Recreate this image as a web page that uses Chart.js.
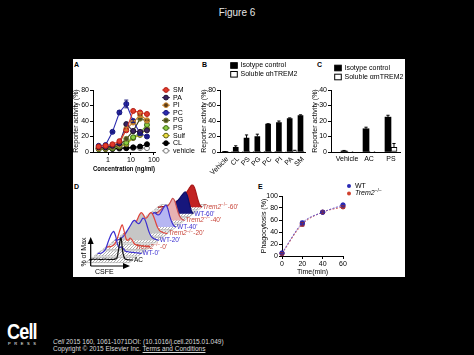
<!DOCTYPE html>
<html>
<head>
<meta charset="utf-8">
<title>Figure 6</title>
<script src="https://cdn.jsdelivr.net/npm/chart.js@4.4.1/dist/chart.umd.min.js"></script>
<style>
  html, body { margin:0; padding:0; background:#000; width:474px; height:355px; overflow:hidden; }
  body { position:relative; font-family:"Liberation Sans", Arial, Helvetica, sans-serif; }
  #figtitle { position:absolute; left:0; top:7px; width:474px; text-align:center; color:#e6e6e6; font-size:10px; line-height:12px; }
  #panel { position:absolute; left:73px; top:59px; width:332px; height:218px; background:#fff; }
  canvas { position:absolute; }
  .plabel { position:absolute; font-size:7px; font-weight:bold; color:#000; line-height:7px; }
  #logo { position:absolute; left:7px; top:321px; color:#fff; }
  #logo .cell { font-size:22px; font-weight:bold; letter-spacing:-1px; line-height:22px; display:block; transform:scaleX(0.82); transform-origin:left top; }
  #logo .press { font-size:4px; letter-spacing:3.6px; line-height:4px; display:block; margin-left:1px; margin-top:-1px; }
  #cite { position:absolute; left:53px; top:338px; color:#dcdcdc; font-size:6.5px; line-height:7.3px; white-space:nowrap; }
</style>
</head>
<body>
<div id="figtitle">Figure 6</div>
<div id="panel"></div>
<div class="plabel" style="left:74px;top:61px">A</div>
<div class="plabel" style="left:202px;top:61px">B</div>
<div class="plabel" style="left:317px;top:61px">C</div>
<div class="plabel" style="left:74px;top:183px">D</div>
<div class="plabel" style="left:258px;top:183px">E</div>
<canvas id="cA" width="132" height="117" style="left:73px;top:59px"></canvas>
<canvas id="cB" width="117" height="121" style="left:195px;top:59px"></canvas>
<canvas id="cC" width="93" height="121" style="left:312px;top:59px"></canvas>
<canvas id="cD" width="182" height="98" style="left:73px;top:180px"></canvas>
<canvas id="cE" width="150" height="97" style="left:255px;top:180px"></canvas>
<div id="logo"><span class="cell">Cell</span><span class="press">PRESS</span></div>
<div id="cite"><i>Cell</i> 2015 160, 1061-1071DOI: (10.1016/j.cell.2015.01.049)<br>Copyright © 2015 Elsevier Inc. <u>Terms and Conditions</u></div>
<script>
// ---------------- Panel A data ----------------
const aConc = [0.39, 0.78, 1.56, 3.125, 6.25, 12.5, 25, 50];
const aTicks = [1, 10, 100];
const aNames = ['SM', 'PA', 'PI', 'PC', 'PG', 'PS', 'Sulf', 'CL', 'vehicle'];
const aSM = [7, 8, 10, 14, 28, 53, 51, 49];
const aPA = [6, 6, 8, 11, 36, 27, 26, 28];
const aPI = [5, 6, 8, 10, 30, 38, 48, 41];
const aPC = [8, 9, 26, 51, 62, 40, 24, 20];
const aPG = [5, 5, 6, 9, 17, 27, 43, 40];
const aPS = [4, 5, 5, 8, 12, 19, 25, 35];
const aSulf = [4, 4, 5, 7, 10, 18, 22, 30];
const aCL = [4, 4, 4, 5, 5, 6, 7, 10];
const aVehicle = [4, 4, 4, 4, 5, 5, 5, 5];
const aErrPC = [0, 0, 1, 2, 5, 2, 1, 1];
const aErrPI = [0, 0, 0, 0, 2, 2, 3, 2];

// ---------------- Panel B data ----------------
const bCategories = ['Vehicle', 'CL', 'PS', 'PG', 'PC', 'PI', 'PA', 'SM'];
const bIsotype = [0.4, 6, 18, 20, 36, 38, 43, 47];
const bIsotypeErr = [0.2, 2, 4, 3, 0.5, 2, 1, 1];
const bSoluble = [0.3, 0.4, 0.4, 0.4, 0.4, 0.6, 1.5, 0.5];
const bSolubleErr = [0, 0, 0, 0, 0, 0, 0.7, 0];

// ---------------- Panel C data ----------------
const cCategories = ['Vehicle', 'AC', 'PS'];
const cIsotype = [0.7, 15, 22.5];
const cIsotypeErr = [0.3, 1, 1.2];
const cSoluble = [0.2, 0.1, 3];
const cSolubleErr = [0, 0, 2.5];

// ---------------- Panel D data (histograms, % of max per bin) ----------------
const dNames = ['AC', "WT-0'", "Trem2-0'", "WT-20'", "Trem2-20'", "WT-40'", "Trem2-40'", "WT-60'", "Trem2-60'"];
const dAC      = [0,2,4,3,4,3,2,3,4,3,2,3,3,4,10,60,100,30,5,2,1,0,0];
const dWT0     = [0,0,2,8,20,45,70,90,100,80,40,25,30,20,10,8,6,5,4,3,2,1,0];
const dKO0     = [0,0,1,4,10,25,50,80,100,70,35,30,40,30,15,8,6,5,4,3,2,1,0];
const dWT20    = [0,1,3,8,15,25,40,55,70,85,90,80,75,85,100,95,70,40,20,10,5,2,0];
const dKO20    = [0,1,3,8,15,28,45,65,85,95,85,70,75,90,95,80,55,30,15,8,4,2,0];
const dWT40    = [0,1,2,5,10,15,22,30,38,45,55,65,60,55,60,75,90,100,80,45,20,5,0];
const dKO40    = [0,1,2,4,8,12,18,25,32,40,48,55,58,62,70,85,100,90,60,30,12,4,0];
const dWT60    = [0,1,2,3,5,8,12,16,20,26,32,38,44,50,58,68,80,92,100,85,50,15,0];
const dKO60    = [0,1,2,3,5,7,10,14,18,24,30,36,44,52,62,75,90,100,95,70,35,10,0];
const dHists = [dAC, dWT0, dKO0, dWT20, dKO20, dWT40, dKO40, dWT60, dKO60];

// ---------------- Panel E data ----------------
const eTime = [0, 20, 40, 60];
const eWT = [5, 55, 73, 85];
const eWTErr = [2, 3, 2, 2];
const eKO = [4, 53, 73, 82];
const eKOErr = [2, 3, 2, 2];

// ---------------- styles ----------------
const FONT = '"Liberation Sans", Arial, Helvetica, sans-serif';
Chart.defaults.font.family = FONT;
Chart.defaults.font.size = 7;
Chart.defaults.color = '#000';
Chart.defaults.animation = false;
Chart.defaults.responsive = false;
Chart.defaults.maintainAspectRatio = false;
Chart.defaults.devicePixelRatio = 1;
Chart.defaults.events = [];
Chart.defaults.plugins.legend.display = false;
Chart.defaults.plugins.tooltip.enabled = false;

const aStyles = [
  {line:'#e23a2c', fill:'#e23a2c', edge:'#b01e14'},
  {line:'#3b2460', fill:'#3b2460', edge:'#1e1030'},
  {line:'#c9822e', fill:'#5a3c18', edge:'#d08a30'},
  {line:'#2b2bb0', fill:'#2b2bb0', edge:'#18187a'},
  {line:'#3e4218', fill:'#4a4e20', edge:'#7c8236'},
  {line:'#6aa830', fill:'#8ed040', edge:'#3a6018'},
  {line:'#b8b020', fill:'#ece040', edge:'#5a5818'},
  {line:'#000000', fill:'#000000', edge:'#000000'},
  {line:'#8c8c8c', fill:'#ffffff', edge:'#7a7a7a'}
];
const dStyles = [
  {line:'#111111', fill:null},
  {line:'#3b2fd0', fill:null},
  {line:'#e0443a', fill:null},
  {line:'#3b2fd0', fill:'#c6c6c6'},
  {line:'#e0443a', fill:'#c6c6c6'},
  {line:'#3b2fd0', fill:'#b6b6f2'},
  {line:'#c85050', fill:'#e8b2b2'},
  {line:'#0e0e66', fill:'#16167c'},
  {line:'#a81818', fill:'#c22222'}
];

// ---------------- plugins ----------------
const errorBars = {
  id: 'errorBars',
  afterDatasetsDraw(chart) {
    const ctx = chart.ctx, ys = chart.scales.y;
    chart.data.datasets.forEach((ds, di) => {
      if (!ds.errors) return;
      const meta = chart.getDatasetMeta(di);
      ctx.save();
      ctx.strokeStyle = ds.errorColor || '#000';
      ctx.lineWidth = 1;
      meta.data.forEach((el, i) => {
        const e = ds.errors[i];
        if (!e) return;
        const raw = ds.data[i];
        const v = (typeof raw === 'object') ? raw.y : raw;
        const top = ys.getPixelForValue(v + e);
        const bot = ds.errorDown ? ys.getPixelForValue(v - e) : ys.getPixelForValue(v);
        const cap = ds.errorCap || 2;
        ctx.beginPath();
        ctx.moveTo(el.x, bot); ctx.lineTo(el.x, top);
        ctx.moveTo(el.x - cap, top); ctx.lineTo(el.x + cap, top);
        if (ds.errorDown) { ctx.moveTo(el.x - cap, bot); ctx.lineTo(el.x + cap, bot); }
        ctx.stroke();
      });
      ctx.restore();
    });
  }
};

function drawTrem(ctx, x, y, suffix, size) {
  ctx.font = 'italic ' + size + 'px ' + FONT;
  ctx.fillText('Trem2', x, y);
  let w = ctx.measureText('Trem2').width;
  ctx.font = (size * 0.7) + 'px ' + FONT;
  ctx.fillText('\u2212/\u2212', x + w, y - size * 0.35);
  w += ctx.measureText('\u2212/\u2212').width;
  if (suffix) { ctx.font = size + 'px ' + FONT; ctx.fillText(suffix, x + w, y); }
}

const sideLegend = {
  id: 'sideLegend',
  afterDraw(chart, args, opts) {
    if (!opts || !opts.show) return;
    const ctx = chart.ctx;
    ctx.save();
    ctx.textBaseline = 'middle';
    ctx.fillStyle = '#000';
    chart.data.datasets.forEach((ds, i) => {
      const x = opts.x, y = opts.y + i * opts.dy;
      if (opts.kind === 'point') {
        ctx.strokeStyle = ds.borderColor; ctx.lineWidth = 1;
        ctx.beginPath(); ctx.moveTo(x - 4, y); ctx.lineTo(x + 4, y); ctx.stroke();
        ctx.beginPath(); ctx.arc(x, y, opts.r || 2.4, 0, Math.PI * 2);
        ctx.fillStyle = ds.pointBackgroundColor; ctx.fill();
        ctx.strokeStyle = ds.pointBorderColor; ctx.stroke();
      } else if (opts.kind === 'dot') {
        ctx.beginPath(); ctx.arc(x, y, 2, 0, Math.PI * 2);
        ctx.fillStyle = ds.pointBackgroundColor; ctx.fill();
      } else {
        ctx.fillStyle = ds.backgroundColor;
        ctx.fillRect(x - 3.3, y - 2.8, 6.6, 5.6);
        ctx.strokeStyle = '#000'; ctx.lineWidth = 1;
        ctx.strokeRect(x - 3.3, y - 2.8, 6.6, 5.6);
      }
      ctx.fillStyle = '#000';
      const tx = x + opts.gap;
      if (ds.trem) { drawTrem(ctx, tx, y, '', 7); }
      else { ctx.font = '7px ' + FONT; ctx.fillText(ds.label, tx, y); }
    });
    ctx.restore();
  }
};

function axisBase(extra) {
  const o = {
    grid: { display:true, drawOnChartArea:false, drawTicks:true, tickLength:3, color:'#000', lineWidth:1 },
    border: { display:true, color:'#000', width:1 },
    ticks: { color:'#000', font:{size:7}, padding:1 }
  };
  return Object.assign(o, extra);
}

// ---------------- Panel A ----------------
const aValues = [aSM, aPA, aPI, aPC, aPG, aPS, aSulf, aCL, aVehicle];
const aErrors = [null, null, aErrPI, aErrPC, null, null, null, null, null];
new Chart(document.getElementById('cA'), {
  type: 'line',
  data: {
    datasets: aNames.map((n, k) => ({
      label: n,
      data: aConc.map((c, i) => ({x: c, y: aValues[k][i]})),
      borderColor: aStyles[k].line,
      backgroundColor: aStyles[k].fill,
      pointBackgroundColor: aStyles[k].fill,
      pointBorderColor: aStyles[k].edge,
      pointRadius: 2.5, pointBorderWidth: 1, borderWidth: 1.1, tension: 0,
      errors: aErrors[k], errorColor: aStyles[k].edge, errorDown: true, clip: false
    }))
  },
  options: {
    layout: { padding: {left:0, top:31, right:50, bottom:0} },
    scales: {
      x: axisBase({
        type: 'logarithmic', min: 0.22, max: 112,
        afterBuildTicks: ax => { ax.ticks = aTicks.map(v => ({value: v})); },
        afterFit: s => { s.height = 24; },
        ticks: { color:'#000', font:{size:7}, padding:1, callback: v => String(v) },
        title: { display:true, text:'Concentration (ng/ml)', color:'#000', font:{size:7, weight:'bold', lineHeight:1}, padding:{top:0, bottom:3} }
      }),
      y: axisBase({
        min: 0, max: 80,
        afterFit: s => { s.width = 20; },
        ticks: { stepSize:20, color:'#000', font:{size:7}, padding:1 },
        title: { display:true, text:'Reporter activity (%)', color:'#000', font:{size:7, lineHeight:1}, padding:{top:0, bottom:0} }
      })
    },
    plugins: { sideLegend: { show:true, kind:'point', x:93, y:31, dy:7.6, gap:7 } }
  },
  plugins: [errorBars, sideLegend]
});

// ---------------- bar chart helper ----------------
function barChart(id, cats, iso, isoErr, sol, solErr, solLabel, o) {
  return new Chart(document.getElementById(id), {
    type: 'bar',
    data: {
      datasets: [
        { label:'Isotype control', data: iso.map((v, i) => ({x:i, y:v})), backgroundColor:'#000', borderColor:'#000', borderWidth:0,
          barThickness:o.bar, errors: isoErr, errorCap: 1.6 },
        { label:solLabel, data: sol.map((v, i) => ({x:i, y:v})), backgroundColor:'#fff', borderColor:'#000', borderWidth:1, borderSkipped:false,
          barThickness:o.bar, errors: solErr, errorCap: 1.6 }
      ]
    },
    options: {
      layout: { padding: {left:0, top:o.top, right:o.right, bottom:0} },
      scales: {
        x: {
          type:'linear', min:o.xmin, max:o.xmax, offset:false,
          afterBuildTicks: ax => { ax.ticks = cats.map((c, i) => ({value:i})); },
          afterFit: s => { s.height = o.xh; },
          grid: { display:true, offset:false, drawOnChartArea:false, drawTicks:false, tickLength:0, color:'#000' },
          border: { display:true, color:'#000', width:1 },
          ticks: { autoSkip:false, maxRotation:o.rot, minRotation:o.rot, padding:o.tpad, color:'#000', font:{size:7}, callback: v => cats[v] }
        },
        y: axisBase({
          min:0, max:o.ymax,
          afterFit: s => { s.width = o.yw; },
          ticks: { stepSize:o.step, color:'#000', font:{size:7}, padding:1 },
          title: { display:true, text:'Reporter activity (%)', color:'#000', font:{size:7, lineHeight:1}, padding:{top:o.tp, bottom:0} }
        })
      },
      plugins: { sideLegend: { show:true, kind:'box', x:o.lx, y:o.ly, dy:o.ldy, gap:6.5 } }
    },
    plugins: [errorBars, sideLegend]
  });
}

barChart('cB', bCategories, bIsotype, bIsotypeErr, bSoluble, bSolubleErr, 'Soluble \u03b1hTREM2',
  {bar:5, top:31, right:2, xmin:-0.69, xmax:7.25, xh:28, rot:45, tpad:3, ymax:80, step:20, yw:25, tp:6, lx:39, ly:6.5, ldy:8.8});
barChart('cC', cCategories, cIsotype, cIsotypeErr, cSoluble, cSolubleErr, 'Soluble \u03b1mTREM2',
  {bar:6, top:31, right:5, xmin:-0.73, xmax:2.41, xh:28, rot:0, tpad:3, ymax:40, step:10, yw:19, tp:0, lx:26, ly:9, ldy:9});

// ---------------- Panel D ----------------
const dStepX = 8.6, dStepY = 6.6, dBinW = 2, dX0 = 16, dY0 = 18, dPeak = 22, dLabelDx = [0,0,-16,0,0,0,0,0,0];
function hatch(ctx) {
  const c = document.createElement('canvas'); c.width = 3; c.height = 3;
  const g = c.getContext('2d'); g.strokeStyle = '#8c8c8c'; g.lineWidth = 0.7;
  g.beginPath(); g.moveTo(0, 3); g.lineTo(3, 0); g.stroke();
  return ctx.createPattern(c, 'repeat');
}
const dDecor = {
  id: 'dDecor',
  beforeDatasetsDraw(chart) {
    const ctx = chart.ctx, xs = chart.scales.x, ys = chart.scales.y;
    const pat = hatch(ctx);
    const W = (dHists[0].length - 1) * dBinW;
    ctx.save();
    for (let k = dHists.length - 1; k >= 0; k--) {
      const bx = dX0 + k * dStepX, by = dY0 + k * dStepY;
      const pts = [[bx - 0.4*dStepX, by - 0.4*dStepY], [bx + W - 0.4*dStepX, by - 0.4*dStepY], [bx + W + 0.4*dStepX, by + 0.4*dStepY], [bx + 0.4*dStepX, by + 0.4*dStepY]];
      ctx.beginPath();
      pts.forEach((p, i) => { const px = xs.getPixelForValue(p[0]), py = ys.getPixelForValue(p[1]); i ? ctx.lineTo(px, py) : ctx.moveTo(px, py); });
      ctx.closePath();
      ctx.fillStyle = '#fff'; ctx.fill();
      ctx.fillStyle = pat; ctx.fill();
      ctx.strokeStyle = '#a0a0a0'; ctx.lineWidth = 0.6; ctx.stroke();
    }
    ctx.restore();
  },
  afterDatasetsDraw(chart) {
    const ctx = chart.ctx, xs = chart.scales.x, ys = chart.scales.y;
    const W = (dHists[0].length - 1) * dBinW;
    ctx.save();
    ctx.textBaseline = 'middle';
    dNames.forEach((n, k) => {
      const bx = dX0 + k * dStepX + W + 1 + dLabelDx[k], by = dY0 + k * dStepY;
      const px = xs.getPixelForValue(bx), py = ys.getPixelForValue(by);
      if (n === 'AC') { ctx.fillStyle = '#000'; ctx.font = '6.5px ' + FONT; ctx.fillText('AC', px, py); }
      else if (n.indexOf('WT') === 0) { ctx.fillStyle = '#3b2fd0'; ctx.font = '6.5px ' + FONT; ctx.fillText(n, px, py); }
      else { ctx.fillStyle = '#c8453a'; drawTrem(ctx, px, py, n.replace('Trem2', ''), 6.5); }
    });
    // axis arrows
    const ax = xs.getPixelForValue(17.7), ay = ys.getPixelForValue(12);
    ctx.strokeStyle = '#000'; ctx.fillStyle = '#000'; ctx.lineWidth = 1.2;
    ctx.beginPath(); ctx.moveTo(ax, ay); ctx.lineTo(ax, ys.getPixelForValue(36)); ctx.moveTo(ax, ay); ctx.lineTo(xs.getPixelForValue(52), ay); ctx.stroke();
    const tipY = ys.getPixelForValue(41), tipX = xs.getPixelForValue(57);
    ctx.beginPath(); ctx.moveTo(ax, tipY); ctx.lineTo(ax - 3, tipY + 7); ctx.lineTo(ax + 3, tipY + 7); ctx.closePath(); ctx.fill();
    ctx.beginPath(); ctx.moveTo(tipX, ay); ctx.lineTo(tipX - 7, ay - 3); ctx.lineTo(tipX - 7, ay + 3); ctx.closePath(); ctx.fill();
    ctx.font = '7px ' + FONT; ctx.textAlign = 'center';
    ctx.save(); ctx.translate(xs.getPixelForValue(11.5), ys.getPixelForValue(26)); ctx.rotate(-Math.PI / 2); ctx.fillText('% of Max', 0, 0); ctx.restore();
    ctx.textAlign = 'left'; ctx.fillText('CSFE', xs.getPixelForValue(22), ys.getPixelForValue(6));
    ctx.restore();
  }
};
new Chart(document.getElementById('cD'), {
  type: 'line',
  data: {
    datasets: dNames.map((n, k) => ({
      label: n,
      data: dHists[k].map((h, i) => ({x: dX0 + k * dStepX + i * dBinW, y: dY0 + k * dStepY + h * dPeak / 100})),
      borderColor: dStyles[k].line,
      backgroundColor: dStyles[k].fill || 'rgba(0,0,0,0)',
      fill: dStyles[k].fill ? {value: dY0 + k * dStepY} : false,
      borderWidth: 1.2, pointRadius: 0, tension: 0.3
    }))
  },
  options: {
    layout: { padding: 0 },
    scales: { x: {type:'linear', display:false, min:0, max:182}, y: {type:'linear', display:false, min:0, max:98} }
  },
  plugins: [dDecor]
});

// ---------------- Panel E ----------------
new Chart(document.getElementById('cE'), {
  type: 'line',
  data: {
    datasets: [
      { label:'WT', data: eTime.map((t, i) => ({x:t, y:eWT[i]})), borderColor:'#6a5ad0', borderDash:[2, 1.5], borderWidth:1,
        pointRadius:2.2, pointBackgroundColor:'#2a2ab4', pointBorderColor:'#2a2ab4', cubicInterpolationMode:'monotone',
        errors:eWTErr, errorDown:true, errorColor:'#2a2ab4', clip:false },
      { label:'Trem2', trem:true, data: eTime.map((t, i) => ({x:t, y:eKO[i]})), borderColor:'#c8504a', borderDash:[2, 1.5], borderWidth:1,
        pointRadius:2.2, pointBackgroundColor:'#d0402e', pointBorderColor:'#d0402e', cubicInterpolationMode:'monotone',
        errors:eKOErr, errorDown:true, errorColor:'#7a2a4a', clip:false }
    ]
  },
  options: {
    layout: { padding: {left:0, top:16, right:62, bottom:0} },
    scales: {
      x: axisBase({
        type:'linear', min:0, max:60,
        afterFit: s => { s.height = 21; },
        ticks: { stepSize:20, color:'#000', font:{size:7}, padding:1 },
        title: { display:true, text:'Time(min)', color:'#000', font:{size:7, lineHeight:1}, padding:{top:0, bottom:1} }
      }),
      y: axisBase({
        min:0, max:100,
        afterFit: s => { s.width = 27; },
        ticks: { stepSize:20, color:'#000', font:{size:7}, padding:1 },
        title: { display:true, text:'Phagocytosis (%)', color:'#000', font:{size:7, lineHeight:1}, padding:{top:6, bottom:0} }
      })
    },
    plugins: { sideLegend: { show:true, kind:'dot', x:94, y:6, dy:7.5, gap:6 } }
  },
  plugins: [errorBars, sideLegend]
});
</script>
</body>
</html>
